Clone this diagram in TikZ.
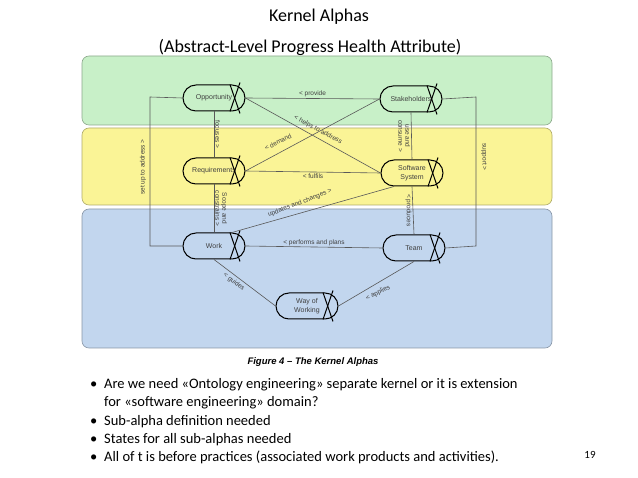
\documentclass[tikz,border=0pt]{standalone}
\usepackage{fontspec}
\setmainfont{Carlito}
\newfontfamily\lab{Liberation Sans}
\usetikzlibrary{shapes.misc}
\definecolor{bgreen}{RGB}{200,240,200}
\definecolor{byellow}{RGB}{250,244,150}
\definecolor{bblue}{RGB}{194,214,238}
\begin{document}
\begin{tikzpicture}[x=1pt,y=-1pt,
 band/.style={rounded corners=7pt,draw=#1!70!black,fill=#1,line width=0.6pt},
 alpha/.style={rounded rectangle,draw=black,line width=1pt,minimum width=66pt,minimum height=26pt,font=\lab\fontsize{7}{8.5}\selectfont,align=center,text=black!75,inner xsep=2pt},
 conn/.style={draw=black!65,line width=0.6pt},
 lbl/.style={font=\lab\fontsize{6.5}{7}\selectfont,text=black!75,inner sep=1pt},
 bul/.style={anchor=base west,font=\fontsize{14.5}{18}\selectfont,inner sep=0pt}]
\useasboundingbox (0,0) rectangle (638,478);
\node[font=\fontsize{18}{20}\selectfont] (t1) at (319,17) {Kernel Alphas};
\node[font=\fontsize{18}{20}\selectfont] (t2) at (310,47) {(Abstract-Level Progress Health Attribute)};
\draw[band=bgreen] (82,56) rectangle (552,125);
\draw[band=byellow] (82,128) rectangle (552,205);
\draw[band=bblue] (82,209) rectangle (552,348);
\node[alpha] (opp) at (214,98) {Opportunity};
\node[alpha] (stk) at (411,99) {Stakeholders};
\node[alpha] (req) at (214,171) {Requirements};
\node[alpha] (sws) at (412,173) {Software\\System};
\node[alpha] (wrk) at (214,246) {Work};
\node[alpha] (tm) at (414,248) {Team};
\node[alpha] (wow) at (307,306) {Way of\\Working};
\foreach \n in {opp,stk,req,sws,wrk,tm,wow}{
 \draw[line width=1pt] ([xshift=-2pt]\n.north east) -- ([xshift=8pt,yshift=-2pt]\n.south east);
 \draw[line width=1pt] ([xshift=-2pt]\n.south east) -- ([xshift=8pt,yshift=2pt]\n.north east);
}
\coordinate (l1) at (150,97); \coordinate (l2) at (150,246);
\coordinate (r1) at (476,97); \coordinate (r2) at (476,246);
\draw[conn] (opp.west) -- (l1) -- (l2) -- (wrk.west);
\draw[conn] (stk.east) -- (r1) -- (r2) -- (tm.east);
\draw[conn] (opp.east) -- node[lbl,above]{< provide} (stk.west);
\draw[conn] (opp.east) -- (sws.west);
\node[lbl,rotate=-28] (hta) at (318,130) {< helps to address};
\draw[conn] (stk.west) -- (req.east);
\node[lbl,rotate=27] (dem) at (278,142) {< demand};
\draw[conn] (req.east) -- node[lbl,below]{< fulfils} (sws.west);
\draw[conn] (sws.south west) -- (wrk.north east);
\node[lbl,rotate=21] (uac) at (300,203) {updates and changes >};
\draw[conn] (wrk.east) -- node[lbl,above]{< performs and plans} (tm.west);
\draw[conn] (wrk.south) -- (wow.west);
\node[lbl,rotate=-38] (gd) at (234,282) {< guides};
\draw[conn] (tm.south) -- (wow.east);
\node[lbl,rotate=27] (ap) at (378,293) {< applies};
\draw[conn] (opp.south) -- node[lbl,rotate=-90,anchor=south]{focuses >} (req.north);
\draw[conn] (req.south) -- node[lbl,rotate=-90,anchor=south,align=center]{Scope and\\constrains >} (wrk.north);
\draw[conn] (stk.south) -- node[lbl,rotate=-90,anchor=north,align=center]{use and\\consume >} (sws.north);
\draw[conn] (sws.south) -- node[lbl,rotate=-90,anchor=north]{< produces} (tm.north);
\node[lbl,rotate=90] (sua) at (143,167) {set up to address >};
\node[lbl,rotate=-90] (sup) at (484,157) {support >};
\node[font=\lab\bfseries\itshape\fontsize{9.5}{10}\selectfont] (cap) at (313,362) {Figure 4 \textendash{} The Kernel Alphas};
\foreach \y/\t [count=\i] in {389/{Are we need «Ontology engineering» separate kernel or it is extension},426/{Sub-alpha definition needed},444/{States for all sub-alphas needed},462/{All of t is before practices (associated work products and activities).}}{
 \node[bul] (b\i) at (90,\y) {\textbullet};
 \node[bul] (t\i) at (104,\y) {\t};
}
\node[bul] (t1b) at (104,407) {for «software engineering» domain?};
\node[font=\fontsize{11}{12}\selectfont] (pg) at (590,455) {19};
\end{tikzpicture}
\end{document}
